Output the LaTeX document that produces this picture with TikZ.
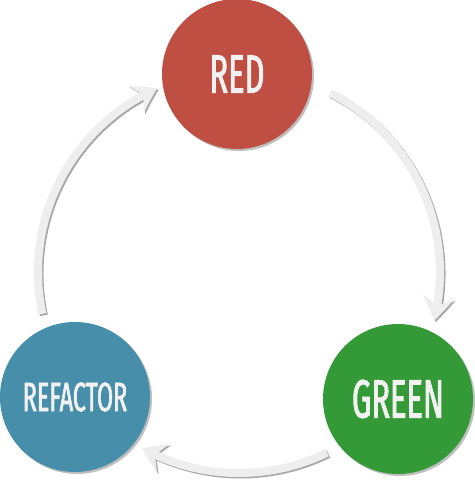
\documentclass[tikz,border=0pt]{standalone}
\usepackage{fontspec}
\newfontfamily\condfont[FakeStretch=0.57,FakeBold=1.6]{Fira Sans}
\usetikzlibrary{arrows.meta,bending,shadows}
\definecolor{tddred}{HTML}{BF4F43}
\definecolor{tddgreen}{HTML}{349A37}
\definecolor{tddblue}{HTML}{468EAA}
\definecolor{arrowgray}{HTML}{EEEEEE}
\definecolor{arrowshade}{HTML}{A8A8A8}
\definecolor{txt}{HTML}{F2F2F2}
\tikzset{
  stagecircle/.style={circle, minimum size=150pt, inner sep=0pt,
    drop shadow={shadow xshift=2pt, shadow yshift=-2pt, opacity=0.25, fill=black}},
  stagetext/.style={text=txt, font=\condfont\fontsize{54}{54}\selectfont},
  stagetextsmall/.style={text=txt, font=\condfont\fontsize{41}{41}\selectfont},
  cyclearrow/.style={line width=8pt, draw=arrowgray,
    -{Stealth[length=24pt,width=31pt,inset=9pt,bend]}},
  cycleshadow/.style={line width=8pt, draw=arrowshade,
    -{Stealth[length=24pt,width=31pt,inset=9pt,bend]}}
}
\begin{document}
\begin{tikzpicture}[x=1pt,y=1pt]
\useasboundingbox (0,0) rectangle (474,482);
\fill[white] (0,0) rectangle (474,482);
\coordinate (c) at (239,210);
% arrows
\foreach \s/\e in {63/-14, -64/-119, 192/114}{
  \draw[cycleshadow] ([shift={(\s:201)}]c) ++(1.5,-1.5) arc[start angle=\s, end angle=\e, radius=201];
  \draw[cyclearrow] ([shift={(\s:201)}]c) arc[start angle=\s, end angle=\e, radius=201];
}
% stages
\node[stagecircle, fill=tddred] (red) at (237,408) {};
\node[stagecircle, fill=tddgreen] (green) at (398,83) {};
\node[stagecircle, fill=tddblue] (refactor) at (75,85) {};
\node[stagetext] (redlbl) at (red) {RED};
\node[stagetext] (greenlbl) at (green) {GREEN};
\node[stagetextsmall] (refactorlbl) at (refactor) {REFACTOR};
\end{tikzpicture}
\end{document}
